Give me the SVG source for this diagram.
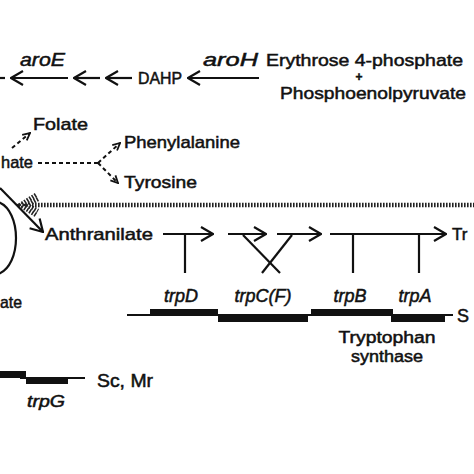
<svg xmlns="http://www.w3.org/2000/svg" width="474" height="474" viewBox="0 0 474 474">
<style>
.t{font-family:"Liberation Sans",Arial,sans-serif;fill:#111;stroke:#111;stroke-width:0.5}
.i{font-style:italic}
.ln{stroke:#111;stroke-width:2.2;fill:none}
.ds{stroke:#111;stroke-width:2;fill:none;stroke-dasharray:4 3}
.dot{stroke:#222;stroke-width:4.5;fill:none;stroke-dasharray:1.6 1.4}
.bar{fill:#111}
</style>
<defs>
<marker id="ah" viewBox="0 0 14 16" refX="13" refY="8" markerWidth="14" markerHeight="16" orient="auto" markerUnits="userSpaceOnUse">
<path d="M1,1 L13,8 L1,15" fill="none" stroke="#111" stroke-width="2.2"/>
</marker>
<marker id="as" viewBox="0 0 10 10" refX="9" refY="5" markerWidth="9" markerHeight="9" orient="auto" markerUnits="userSpaceOnUse">
<path d="M1,1 L9,5 L1,9" fill="none" stroke="#111" stroke-width="2"/>
</marker>
</defs>
<rect width="474" height="474" fill="#fff"/>

<g id="connectors">
<line class="ln" x1="0" y1="78" x2="5" y2="78"/>
<line class="ln" x1="68" y1="78" x2="11" y2="78" marker-end="url(#ah)"/>
<line class="ln" x1="100" y1="78" x2="74" y2="78" marker-end="url(#ah)"/>
<line class="ln" x1="132" y1="78" x2="106" y2="78" marker-end="url(#ah)"/>
<line class="ln" x1="259" y1="78" x2="188" y2="78" marker-end="url(#ah)"/>

<line class="ds" x1="12" y1="148" x2="30" y2="133" marker-end="url(#as)"/>
<line class="ds" x1="38" y1="163" x2="98" y2="163"/>
<line class="ds" x1="98" y1="163" x2="120" y2="143" marker-end="url(#as)"/>
<line class="ds" x1="98" y1="163" x2="118" y2="183" marker-end="url(#as)"/>

<line class="dot" x1="32" y1="205" x2="474" y2="205"/>
<path class="dot" d="M36,195 L20,205 L36,215" stroke-width="3.5"/>
<path class="dot" d="M38,199 L27,205 L38,211" stroke-width="3.5"/>

<path class="ln" d="M0,188 L43,232" marker-end="url(#ah)"/>
<path class="ln" d="M-2,202 C22,210 22,266 -2,274" stroke-width="3"/>

<line class="ln" x1="163" y1="234" x2="213" y2="234" marker-end="url(#ah)"/>
<line class="ln" x1="228" y1="234" x2="266" y2="234" marker-end="url(#ah)"/>
<line class="ln" x1="277" y1="234" x2="321" y2="234" marker-end="url(#ah)"/>
<line class="ln" x1="330" y1="234" x2="446" y2="234" marker-end="url(#ah)"/>
<line class="ln" x1="185" y1="234" x2="185" y2="273"/>
<line class="ln" x1="353" y1="234" x2="353" y2="273"/>
<line class="ln" x1="419" y1="234" x2="419" y2="273"/>
<line class="ln" x1="243" y1="235" x2="280" y2="273"/>
<line class="ln" x1="292" y1="235" x2="262" y2="273"/>
</g>

<g id="top-row">
<text class="t i" x="20" y="66" font-size="19" textLength="45" lengthAdjust="spacingAndGlyphs">aroE</text>
<text class="t" x="138" y="84" font-size="16" textLength="44" lengthAdjust="spacingAndGlyphs">DAHP</text>
<text class="t i" x="203" y="66" font-size="19" textLength="55" lengthAdjust="spacingAndGlyphs">aroH</text>
<text class="t" x="266" y="66" font-size="17" textLength="197" lengthAdjust="spacingAndGlyphs">Erythrose  4-phosphate</text>
<text class="t" x="359" y="81" font-size="12" font-weight="bold" text-anchor="middle">+</text>
<text class="t" x="280" y="99" font-size="17" textLength="186" lengthAdjust="spacingAndGlyphs">Phosphoenolpyruvate</text>
</g>

<g id="branch">
<text class="t" x="33" y="130" font-size="17" textLength="55" lengthAdjust="spacingAndGlyphs">Folate</text>
<text class="t" x="1" y="168" font-size="17" textLength="32" lengthAdjust="spacingAndGlyphs">hate</text>
<text class="t" x="124" y="148" font-size="17" textLength="116" lengthAdjust="spacingAndGlyphs">Phenylalanine</text>
<text class="t" x="124" y="188" font-size="17" textLength="73" lengthAdjust="spacingAndGlyphs">Tyrosine</text>
</g>

<g id="trp-path">
<text class="t" x="45" y="240" font-size="17" textLength="108" lengthAdjust="spacingAndGlyphs">Anthranilate</text>
<text class="t" x="0" y="308" font-size="17" textLength="22" lengthAdjust="spacingAndGlyphs">ate</text>
<text class="t" x="452" y="240" font-size="17">Tr</text>
</g>

<g id="operon">
<line class="ln" x1="127" y1="315" x2="453" y2="315"/>
<rect class="bar" x="150" y="309" width="68" height="6"/>
<rect class="bar" x="218" y="315" width="90" height="7"/>
<rect class="bar" x="311" y="309" width="82" height="6"/>
<rect class="bar" x="391" y="315" width="54" height="7"/>
<text class="t i" x="181" y="302" font-size="18" text-anchor="middle">trpD</text>
<text class="t i" x="263" y="302" font-size="18" text-anchor="middle">trpC(F)</text>
<text class="t i" x="350" y="302" font-size="18" text-anchor="middle">trpB</text>
<text class="t i" x="415" y="302" font-size="18" text-anchor="middle">trpA</text>
<text class="t" x="457" y="322" font-size="18">S</text>
<text class="t" x="387" y="343" font-size="16" text-anchor="middle" textLength="97" lengthAdjust="spacingAndGlyphs">Tryptophan</text>
<text class="t" x="387" y="362" font-size="16" text-anchor="middle" textLength="72" lengthAdjust="spacingAndGlyphs">synthase</text>
</g>

<g id="trpG-gene">
<line class="ln" x1="20" y1="378" x2="85" y2="378"/>
<rect class="bar" x="0" y="371" width="26" height="7"/>
<rect class="bar" x="26" y="377" width="42" height="7"/>
<text class="t" x="97" y="387" font-size="18" textLength="56" lengthAdjust="spacingAndGlyphs">Sc, Mr</text>
<text class="t i" x="27" y="407" font-size="16" textLength="38" lengthAdjust="spacingAndGlyphs">trpG</text>
</g>
</svg>
